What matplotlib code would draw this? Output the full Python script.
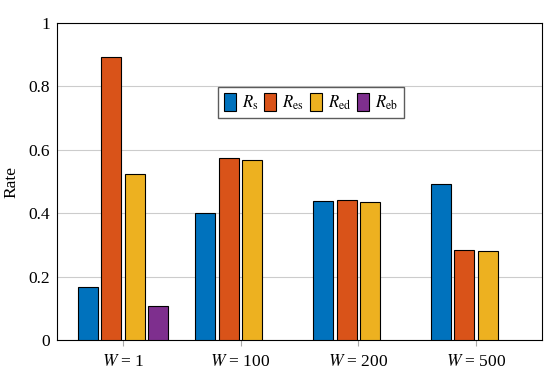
import numpy as np
import matplotlib
matplotlib.use('Agg')
import matplotlib.pyplot as plt

plt.rcParams['font.family'] = ['Liberation Serif', 'DejaVu Serif']
plt.rcParams['mathtext.fontset'] = 'stix'

groups = ['$W$ = 1', '$W$ = 100', '$W$ = 200', '$W$ = 500']
series = [r'$R_{\mathrm{s}}$', r'$R_{\mathrm{es}}$', r'$R_{\mathrm{ed}}$', r'$R_{\mathrm{eb}}$']
r_s = [0.167, 0.400, 0.438, 0.492]
r_es = [0.893, 0.574, 0.441, 0.284]
r_ed = [0.525, 0.568, 0.437, 0.281]
r_eb = [0.107, np.nan, np.nan, np.nan]
colors = ['#0072BD', '#D95319', '#EDB120', '#7E2F8E']

fig = plt.figure(figsize=(5.5, 3.72), dpi=100)
ax = fig.add_axes([0.1036, 0.086, 0.882, 0.852])

x = np.arange(len(groups))
step = 0.2
width = 0.17
for k, (vals, name) in enumerate(zip([r_s, r_es, r_ed, r_eb], series)):
    ax.bar(x + (k - 1.5) * step, vals, width, color=colors[k],
           edgecolor='black', linewidth=0.8, label=name, zorder=3)

ax.set_xlim(-0.56, 3.56)
ax.set_ylim(0, 1)
ax.set_yticks([0, 0.2, 0.4, 0.6, 0.8, 1])
ax.set_yticklabels(['0', '0.2', '0.4', '0.6', '0.8', '1'])
ax.set_xticks(x)
ax.set_xticklabels(groups)
ax.tick_params(axis='both', labelsize=12.5)
ax.tick_params(axis='x', direction='out', length=4, color='#aaaaaa', pad=6)
ax.tick_params(axis='y', length=0, pad=5)
ax.yaxis.grid(True, color='#cccccc', linewidth=0.8, zorder=0)
ax.set_axisbelow(True)
for s in ax.spines.values():
    s.set_linewidth(0.8)
ax.set_ylabel('Rate', fontsize=12.5, va='center')
ax.yaxis.set_label_coords(-0.093, 0.5)

ax.legend(loc='upper left', bbox_to_anchor=(0.332, 0.798), ncol=4,
          frameon=True, fancybox=False, edgecolor='#333333', fontsize=12,
          handlelength=0.72, handleheight=1.3, handletextpad=0.36,
          columnspacing=0.35, borderpad=0.35, borderaxespad=0)

fig.savefig('out.png', dpi=100)
